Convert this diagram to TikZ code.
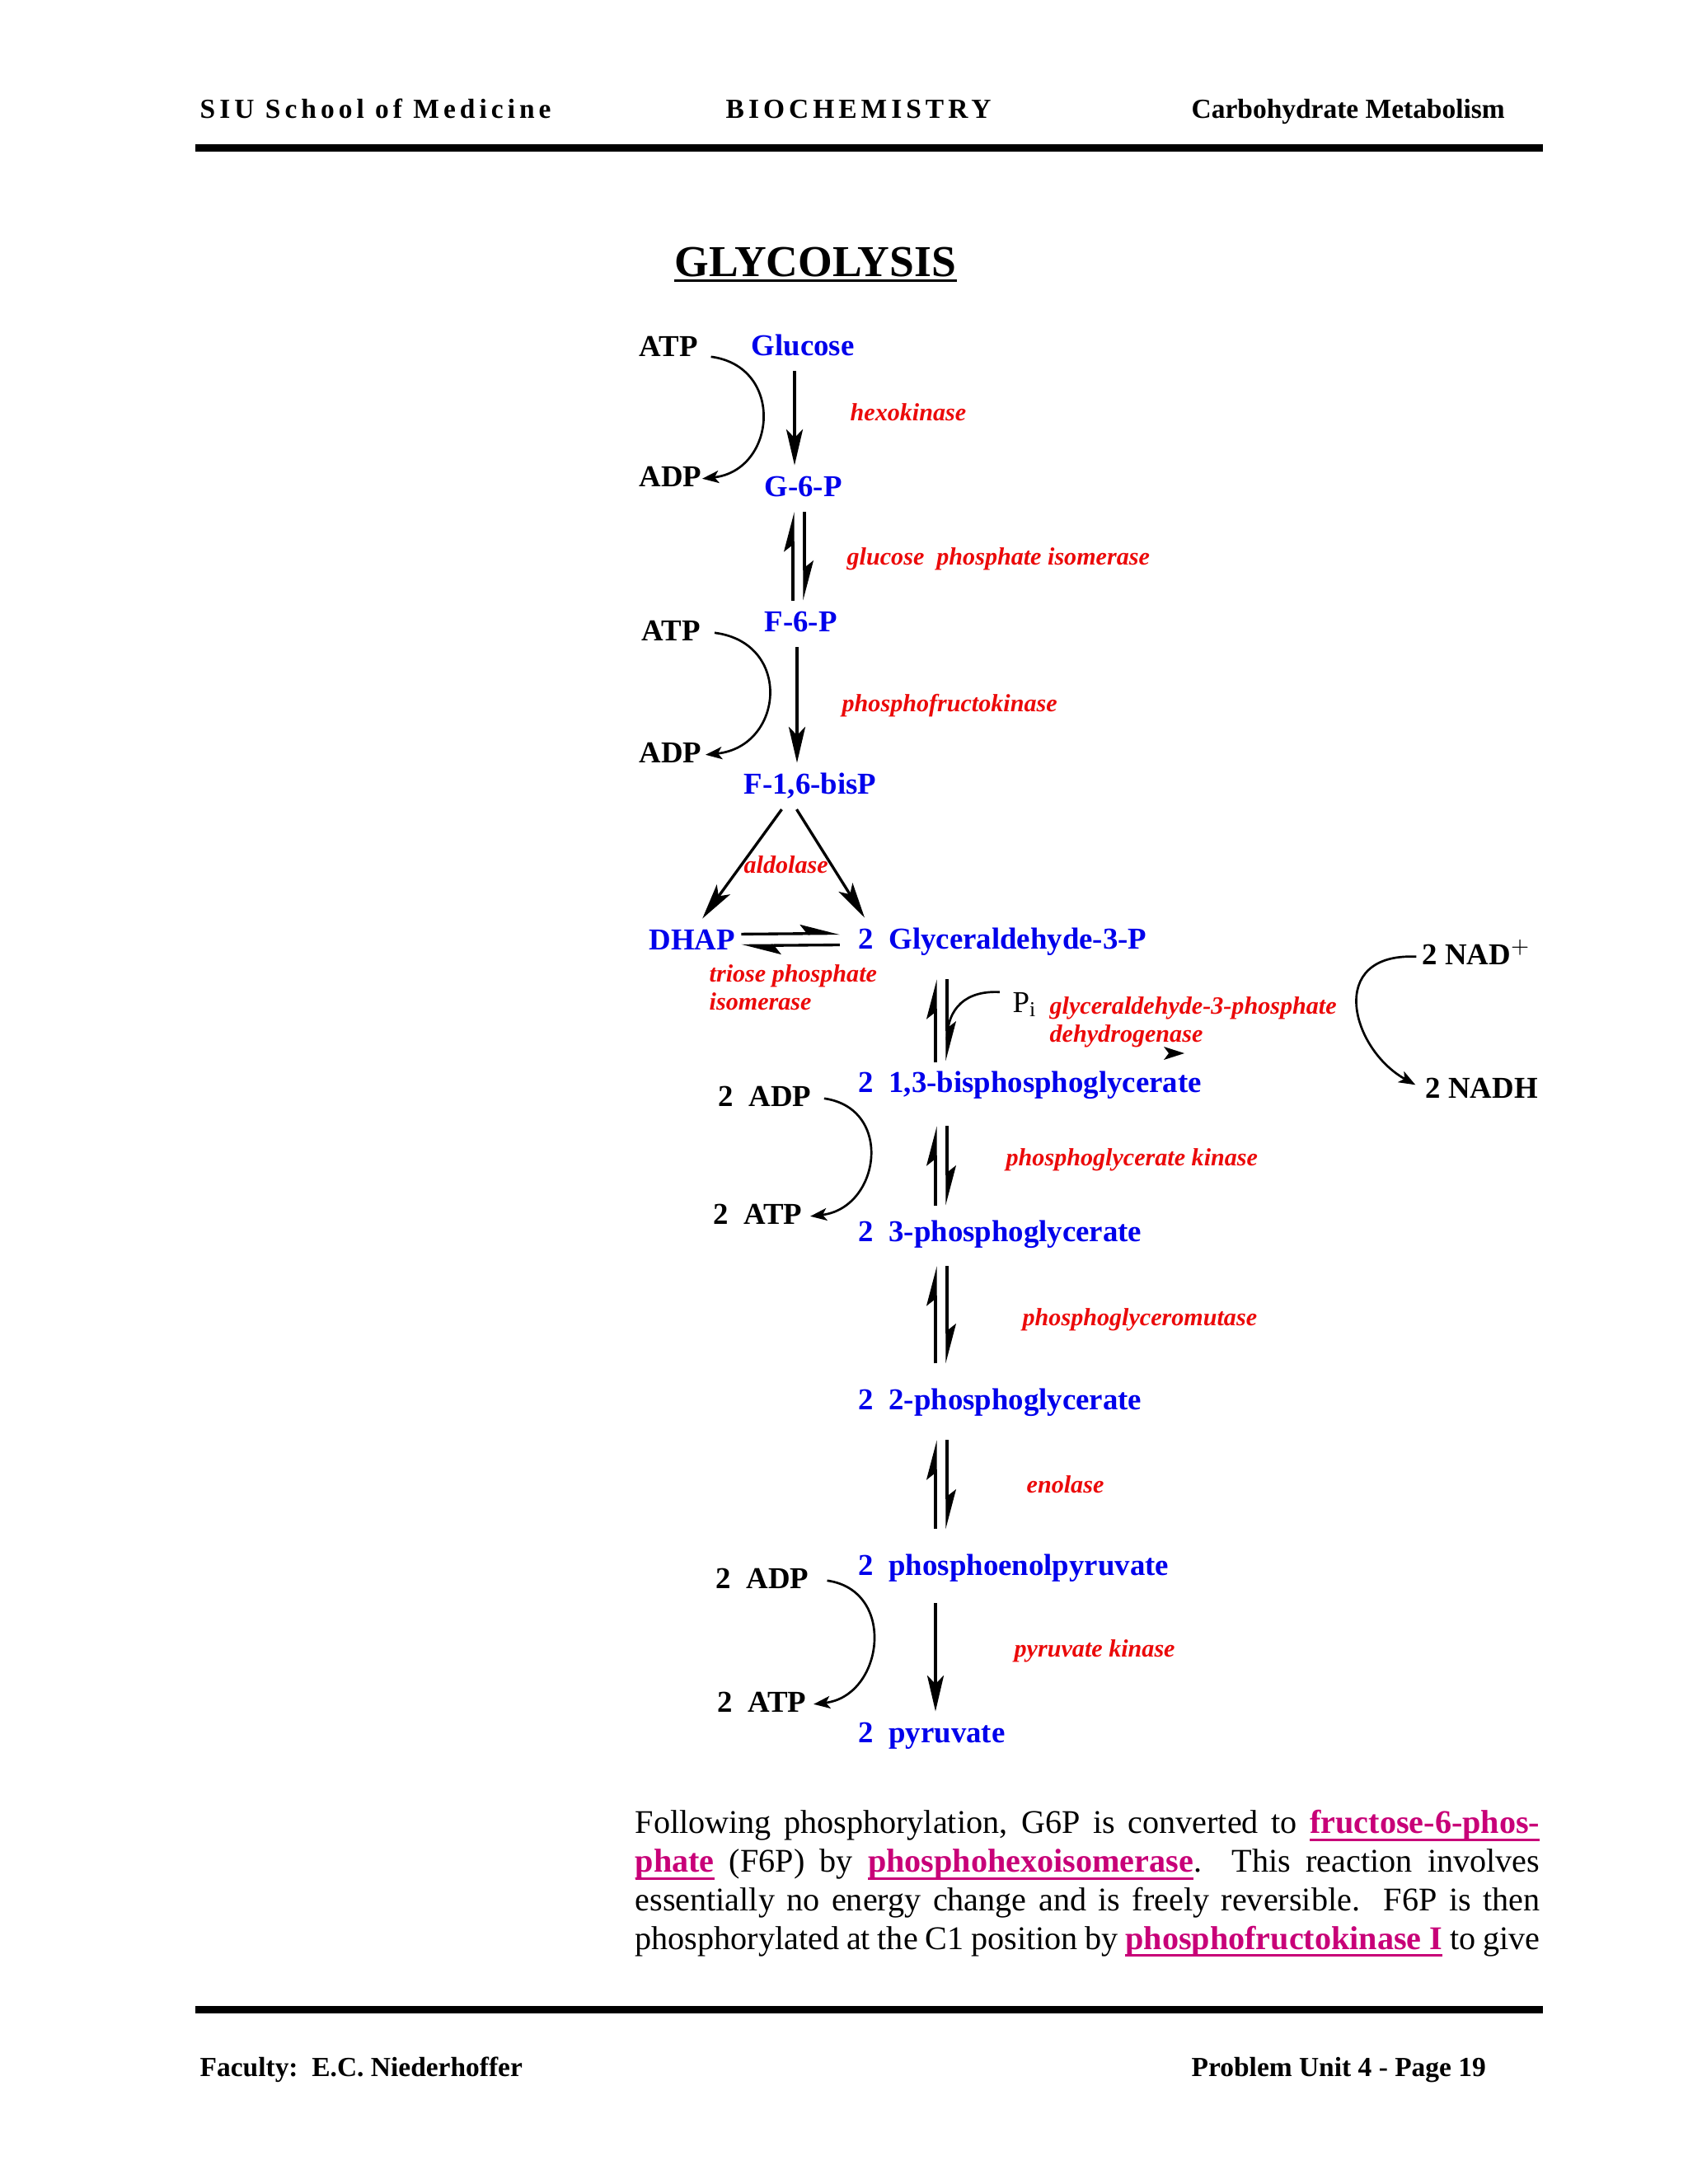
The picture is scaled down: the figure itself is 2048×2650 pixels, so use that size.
\documentclass[tikz,border=0pt]{standalone}
\usepackage{fontspec}
\setmainfont{Liberation Serif}
\newfontfamily\spacedfont[LetterSpace=15]{Liberation Serif}
\usepackage{xcolor}
\usepackage{tikz}
\usetikzlibrary{arrows.meta, positioning}
\definecolor{metblue}{RGB}{0,0,235}
\definecolor{enzred}{RGB}{235,10,10}
\definecolor{linkmag}{RGB}{200,0,120}
\newcommand{\linkword}[1]{\textcolor{linkmag}{\setbox0\hbox{\textbf{#1}}\rlap{\rule[-2.6pt]{\wd0}{0.9pt}}\box0}}

\begin{document}
\begin{tikzpicture}[x=0.298828pt, y=-0.298828pt,
    box/.style={anchor=base west, inner xsep=0pt, inner ysep=3pt, text height=8pt, text depth=2.5pt},
    met/.style={box, font=\fontsize{11}{13}\selectfont\bfseries, text=metblue},
    cof/.style={box, font=\fontsize{11}{13}\selectfont\bfseries},
    enz/.style={anchor=base west, inner sep=0pt, font=\fontsize{9}{10.2}\selectfont\bfseries\itshape, text=enzred},
    head/.style={anchor=base west, inner sep=0pt, font=\fontsize{10}{12}\selectfont\bfseries},
    fwd/.style={line width=1pt, -{Stealth[length=13pt, width=6pt, inset=3pt]}},
    half/.style={line width=1pt, -{Stealth[left, length=12.5pt, width=6.5pt, inset=2.5pt]}},
    curv/.style={line width=0.8pt, -{Stealth[length=6pt, width=4.5pt, inset=1.5pt]}}]
\fill[white] (0,0) rectangle (2048,2650);
\useasboundingbox (0,0) rectangle (2048,2650);

% page head and foot
\node[head, font=\fontsize{10}{12}\spacedfont\bfseries] (school) at (242,143) {SIU School of Medicine};
\node[head, font=\fontsize{10}{12}\spacedfont\bfseries] (subject) at (880,143) {BIOCHEMISTRY};
\node[head] (topic) at (1445,143) {Carbohydrate Metabolism};
\fill (237,175) rectangle (1872,184);
\fill (237,2434) rectangle (1872,2443);
\node[head] (faculty) at (242,2519) {Faculty:\ \ E.C. Niederhoffer};
\node[head] (page) at (1445,2519) {Problem Unit 4 - Page 19};

\node[anchor=base west, inner sep=0pt, font=\fontsize{16}{18}\selectfont\bfseries] (title) at (818,335) {GLYCOLYSIS};
\draw[line width=0.8pt] ([yshift=-1.6pt]title.base west) -- ([yshift=-1.6pt]title.base east);

% metabolites
\node[met] (glc) at (911,431) {Glucose};
\node[met] (g6p) at (927,602) {G-6-P};
\node[met] (f6p) at (927,766) {F-6-P};
\node[met] (fbp) at (902,963) {F-1,6-bisP};
\node[met] (dhap) at (787,1152) {DHAP};
\node[met] (gap) at (1041,1151) {2\enspace Glyceraldehyde-3-P};
\node[met] (bpg) at (1041,1325) {2\enspace 1,3-bisphosphoglycerate};
\node[met] (pgA) at (1041,1506) {2\enspace 3-phosphoglycerate};
\node[met] (pgB) at (1041,1710) {2\enspace 2-phosphoglycerate};
\node[met] (pep) at (1041,1911) {2\enspace phosphoenolpyruvate};
\node[met] (pyr) at (1041,2114) {2\enspace pyruvate};

% cofactors
\node[cof] (atpA) at (775,432) {ATP};
\node[cof] (adpA) at (775,590) {ADP};
\node[cof] (atpB) at (778,777) {ATP};
\node[cof] (adpB) at (775,925) {ADP};
\node[cof] (adpC) at (871,1342) {2\enspace ADP};
\node[cof] (atpC) at (865,1485) {2\enspace ATP};
\node[cof] (adpD) at (868,1927) {2\enspace ADP};
\node[cof] (atpD) at (870,2077) {2\enspace ATP};
\node[cof] (nad) at (1725,1170) {2 NAD$^{+}$};
\node[cof] (nadh) at (1729,1332) {2 NADH};
\node[cof, font=\fontsize{11}{13}\selectfont] (pi) at (1228,1228) {P\textsubscript{i}};

% enzymes
\node[enz] (hexo) at (1031,510) {hexokinase};
\node[enz] (gpi) at (1027,685) {glucose\ \ phosphate isomerase};
\node[enz] (pfk) at (1021,863) {phosphofructokinase};
\node[enz] (aldo) at (902,1059) {aldolase};
\node[enz, anchor=west, align=left] (tpi) at (860,1198) {triose phosphate\\isomerase};
\node[enz, anchor=west, align=left] (gapdh) at (1273,1240) {glyceraldehyde-3-phosphate\\dehydrogenase};
\node[enz] (pgk) at (1220,1414) {phosphoglycerate kinase};
\node[enz] (pgm) at (1240,1608) {phosphoglyceromutase};
\node[enz] (eno) at (1245,1811) {enolase};
\node[enz] (pk) at (1230,2010) {pyruvate kinase};

\coordinate (cGlc) at (964,0);
\coordinate (cIsoUp) at (962,0);
\coordinate (cIsoDn) at (976,0);
\coordinate (cPfk) at (967,0);
\coordinate (cUp) at (1135,0);
\coordinate (cDn) at (1149,0);
\coordinate (piJoin) at (1149,1262);

\draw[fwd] (glc.south -| cGlc) -- (g6p.north -| cGlc);
\draw[half] (f6p.north -| cIsoUp) -- (g6p.south -| cIsoUp);
\draw[half] (g6p.south -| cIsoDn) -- (f6p.north -| cIsoDn);
\draw[fwd] (f6p.south -| cPfk) -- (fbp.north -| cPfk);
\draw[fwd] ([xshift=-10.3pt]fbp.south) -- ([xshift=3.7pt]dhap.north);
\draw[fwd] ([xshift=-4.9pt]fbp.south) -- ([xshift=2.4pt]gap.north west);
\draw[half] ([shift={(2pt,2.8pt)}]dhap.east) -- ([shift={(-6.6pt,2.8pt)}]gap.west);
\draw[half] ([shift={(-6.6pt,-1.4pt)}]gap.west) -- ([shift={(2pt,-1.4pt)}]dhap.east);
\draw[half, shorten <=-0.5pt, shorten >=5.4pt] (bpg.north -| cUp) -- (gap.south -| cUp);
\draw[half, shorten <=5.4pt] (gap.south -| cDn) -- (bpg.north -| cDn);
\draw[line width=0.8pt] ([shift={(-4.5pt,4.5pt)}]pi.west) .. controls +(-40,-2) and +(0,-40) .. (piJoin);
\fill (1412,1270) -- (1437,1278) -- (1412,1286) -- (1418,1278) -- cycle;
\foreach \ma/\mb/\ga/\gb in {bpg/pgA/6.6/1.8, pgA/pgB/3.3/5.4, pgB/pep/5.4/5.4}{
  \draw[half, shorten <=\gb pt, shorten >=\ga pt] (\mb.north -| cUp) -- (\ma.south -| cUp);
  \draw[half, shorten <=\ga pt, shorten >=\gb pt] (\ma.south -| cDn) -- (\mb.north -| cDn);
}
\draw[fwd, shorten <=4.5pt] (pep.south -| cUp) -- (pyr.north -| cUp);

\draw[curv] ([shift={(4.6pt,-3pt)}]atpA.east) .. controls +(90,12) and +(90,-10) .. (adpA.east);
\draw[curv] ([shift={(5pt,0pt)}]atpB.east) .. controls +(95,12) and +(95,-10) .. ([xshift=1.2pt]adpB.east);
\draw[curv] ([xshift=4.5pt]adpC.east) .. controls +(85,12) and +(85,-10) .. ([xshift=2.7pt]atpC.east);
\draw[curv] ([xshift=6.5pt]adpD.east) .. controls +(85,12) and +(85,-10) .. ([xshift=2.4pt]atpD.east);
\draw[curv, shorten >=4pt] ([xshift=-2pt]nad.west) .. controls +(-110,-5) and +(-90,-50) .. (nadh.west);

\node[anchor=north west, inner sep=0pt, text width=328pt, align=justify, font=\fontsize{12}{14}\selectfont] (para) at (770,2196) {\parfillskip=0pt
Following phosphorylation, G6P is converted to \linkword{fructose-6-phos-}\linebreak
\linkword{phate} (F6P) by \linkword{phosphohexoisomerase}.\ \ This reaction involves\linebreak
essentially no energy change and is freely reversible.\ \ F6P is then\linebreak
phosphorylated at the C1 position by \linkword{phosphofructokinase I} to give};
\end{tikzpicture}
\end{document}
